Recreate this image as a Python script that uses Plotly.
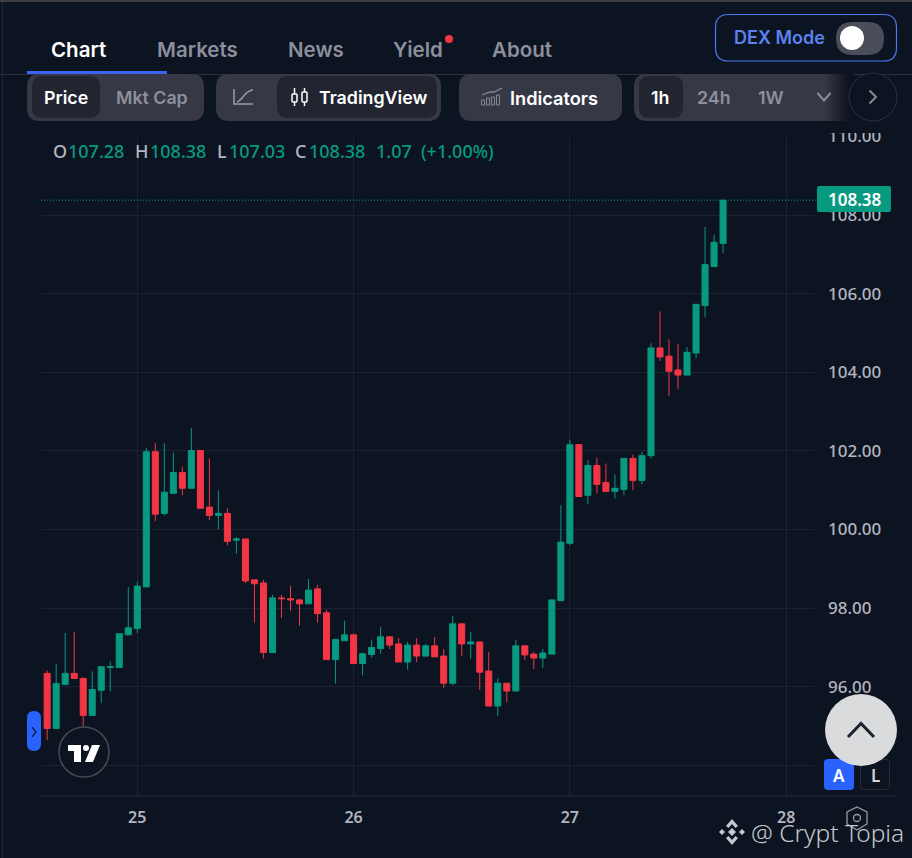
import pandas as pd
import plotly.graph_objects as go

# hourly candles
times = pd.date_range("2025-01-24 14:00", periods=76, freq="h")
opens = [96.34, 94.94, 96.06, 96.34, 96.21, 95.27, 95.91, 96.49, 96.49, 97.32,
         97.48, 98.54, 101.98, 100.41, 100.92, 101.45, 101.05, 102.01, 100.57, 100.36,
         100.41, 99.73, 99.76, 98.72, 98.64, 96.87, 98.26, 98.24, 98.21, 98.11,
         98.49, 97.88, 96.69, 97.17, 97.32, 96.59, 96.82, 96.97, 97.27, 97.09,
         96.63, 97.06, 96.78, 97.04, 96.78, 96.09, 97.60, 97.09, 97.14, 96.40,
         95.51, 96.09, 95.89, 97.04, 96.83, 96.73, 96.83, 98.19, 99.65, 102.16,
         100.87, 101.63, 101.20, 100.97, 101.02, 101.81, 101.25, 101.88, 104.62, 104.41,
         104.06, 103.93, 104.49, 105.70, 106.69, 107.28]
highs = [96.41, 96.59, 97.37, 97.40, 96.24, 96.39, 96.51, 96.64, 97.35, 98.54,
         98.67, 102.08, 102.21, 102.19, 101.96, 101.60, 102.59, 102.01, 101.81, 101.00,
         100.54, 99.81, 99.76, 98.72, 98.72, 98.34, 98.34, 98.57, 98.24, 98.74,
         98.59, 97.96, 97.22, 97.68, 97.35, 96.84, 97.20, 97.53, 97.29, 97.24,
         97.14, 97.24, 97.09, 97.27, 96.96, 97.80, 97.60, 97.40, 97.14, 96.89,
         96.22, 96.09, 97.19, 97.06, 96.89, 96.96, 98.21, 100.62, 102.29, 102.16,
         101.76, 101.83, 101.68, 101.40, 101.81, 101.91, 101.98, 104.74, 105.55, 104.84,
         104.72, 104.64, 105.73, 107.70, 107.50, 108.38]
lows = [94.64, 94.94, 96.06, 96.21, 94.99, 95.27, 95.58, 95.88, 96.49, 97.32,
        97.37, 98.54, 100.21, 100.36, 100.92, 100.87, 101.05, 100.54, 100.24, 100.01,
        99.60, 99.38, 98.64, 97.63, 96.72, 96.87, 97.75, 97.93, 97.55, 98.11,
        97.63, 96.69, 96.08, 97.17, 96.59, 96.29, 96.74, 96.84, 96.96, 96.63,
        96.43, 96.63, 96.78, 96.76, 95.97, 96.04, 96.78, 96.71, 95.92, 95.51,
        95.25, 95.61, 95.89, 96.68, 96.45, 96.48, 96.83, 98.19, 99.60, 100.84,
        100.64, 100.92, 100.97, 100.79, 100.87, 101.00, 101.15, 101.81, 104.29, 103.40,
        103.58, 103.93, 104.36, 105.40, 106.69, 107.03]
closes = [94.94, 96.08, 96.34, 96.21, 95.27, 95.93, 96.51, 96.51, 97.35, 97.50,
          98.56, 101.98, 100.39, 100.95, 101.45, 101.05, 102.01, 100.54, 100.36, 100.41,
          99.70, 99.76, 98.69, 98.62, 96.87, 98.26, 98.24, 98.21, 98.11, 98.46,
          97.86, 96.69, 97.20, 97.32, 96.59, 96.84, 97.00, 97.27, 97.06, 96.63,
          97.06, 96.78, 97.04, 96.76, 96.09, 97.60, 97.09, 97.14, 96.37, 95.51,
          96.09, 95.89, 97.04, 96.81, 96.73, 96.86, 98.21, 99.68, 102.16, 100.84,
          101.63, 101.15, 100.97, 101.05, 101.81, 101.25, 101.88, 104.62, 104.39, 104.03,
          103.93, 104.51, 105.73, 106.74, 107.31, 108.38]

x_tick_vals = ["2025-01-25", "2025-01-26", "2025-01-27", "2025-01-28"]
x_tick_labels = ["25", "26", "27", "28"]
y_tick_vals = [94, 96, 98, 100, 102, 104, 106, 108, 110]
y_tick_labels = ["", "96.00", "98.00", "100.00", "102.00", "104.00", "106.00", "108.00", "110.00"]
x_range = ["2025-01-24 13:19", "2025-01-28 03:12"]
y_range = [93.22, 110.0]

tabs = ["Chart", "Markets", "News", "Yield", "About"]
timeframes = ["1h", "24h", "1W"]

W, H = 912, 858
BG = "#0C1321"
GREEN = "#089981"
RED = "#F23645"
GRID = "#1C2330"
PANEL = "#363846"
ACTIVE = "#22242F"
GREY = "#8D8F9C"
WHITE = "#FFFFFF"
BLUE = "#2962FF"


def px(x):
    return x / W


def py(y):
    return 1 - y / H


shapes = []
notes = []


def path_str(points, close=False):
    s = "M " + " L ".join(f"{px(x):.5f},{py(y):.5f}" for x, y in points)
    return s + (" Z" if close else "")


def add_path(d, fill=None, line=None, width=1):
    shapes.append(dict(type="path", xref="paper", yref="paper", path=d, layer="above",
                       fillcolor=fill or "rgba(0,0,0,0)",
                       line=dict(color=line or "rgba(0,0,0,0)", width=width if line else 0)))


def poly(points, fill=None, line=None, width=1, close=False):
    add_path(path_str(points, close), fill, line, width)


def rrect(x0, y0, x1, y1, r, fill=None, line=None, width=1):
    q = lambda x, y: f"{px(x):.5f},{py(y):.5f}"
    d = (f"M {q(x0 + r, y0)} L {q(x1 - r, y0)} Q {q(x1, y0)} {q(x1, y0 + r)} "
         f"L {q(x1, y1 - r)} Q {q(x1, y1)} {q(x1 - r, y1)} "
         f"L {q(x0 + r, y1)} Q {q(x0, y1)} {q(x0, y1 - r)} "
         f"L {q(x0, y0 + r)} Q {q(x0, y0)} {q(x0 + r, y0)} Z")
    add_path(d, fill, line, width)


def circle(cx, cy, r, fill=None, line=None, width=1):
    shapes.append(dict(type="circle", xref="paper", yref="paper", layer="above",
                       x0=px(cx - r), x1=px(cx + r), y0=py(cy + r), y1=py(cy - r),
                       fillcolor=fill or "rgba(0,0,0,0)",
                       line=dict(color=line or "rgba(0,0,0,0)", width=width if line else 0)))


def text(x, y, s, color=WHITE, size=18, weight=600, anchor="left", family="Inter"):
    notes.append(dict(xref="paper", yref="paper", x=px(x), y=py(y), text=s, showarrow=False,
                      xanchor=anchor, yanchor="middle", borderpad=0, borderwidth=0,
                      font=dict(family=family, size=size, color=color, weight=weight)))


def chevron(pts, color, width=2):
    poly(pts, line=color, width=width)


# header cover, hides the top of the 110.00 label
rrect(0, 0, W, 133, 0, fill=BG)
poly([(0, 1), (W, 1)], line="#3C3E44", width=2)
poly([(2.5, 2), (2.5, H)], line="#222833", width=1)
poly([(0, 74.5), (W, 74.5)], line="#2A303C", width=1)
rrect(27, 71, 167, 74, 0, fill="#3B63F0")

# tabs
tab_x = [51, 157, 288, 393, 492]
for name, tx, col in zip(tabs, tab_x, [WHITE, GREY, GREY, GREY, GREY]):
    text(tx, 49, name, col, size=20.5, weight=600)
circle(449, 39, 4, fill=RED)

# DEX mode switch
rrect(715.5, 14.5, 896.5, 61, 13, line="#4F78F0", width=1.2)
text(734, 37.5, "DEX Mode", "#5B82F0", size=18, weight=600)
rrect(836, 22, 884, 55, 16.5, fill="#4A4D5A")
circle(852, 38, 12, fill=WHITE)

# toolbar groups
rrect(27, 74, 204, 121, 13, fill=PANEL)
rrect(32, 76, 100, 118, 11, fill=ACTIVE)
text(66, 97.5, "Price", WHITE, size=17.8, anchor="center")
text(151.5, 97.5, "Mkt Cap", GREY, size=17.8, anchor="center")

rrect(216, 74, 441, 121, 13, fill=PANEL)
rrect(277, 76, 437, 118, 11, fill=ACTIVE)
poly([(234, 89), (234, 104), (253, 104)], line="#9A9CA8", width=1.5)
add_path(f"M {px(237):.5f},{py(102):.5f} C {px(243):.5f},{py(100):.5f} {px(245):.5f},{py(90):.5f} {px(253):.5f},{py(90):.5f}",
         line="#9A9CA8", width=1.5)
poly([(294.5, 88), (294.5, 106)], line=WHITE, width=1.5)
poly([(304.5, 88), (304.5, 106)], line=WHITE, width=1.5)
rrect(292, 94, 297, 102, 1, fill=ACTIVE, line=WHITE, width=1.5)
rrect(302, 92, 307, 102, 1, fill=ACTIVE, line=WHITE, width=1.5)
text(372.5, 97.5, "TradingView", WHITE, size=17.8, anchor="center")

rrect(459, 74, 622, 121, 13, fill=PANEL)
for bx, top in [(483, 100), (488, 98), (493, 97), (498, 95)]:
    rrect(bx - 1.5, top, bx + 1.5, 105, 0, line="#85878F", width=1)
poly([(482, 95), (490, 92), (494, 92), (502, 88)], line="#85878F", width=1.3)
text(554, 97.5, "Indicators", WHITE, size=18.2, anchor="center")

rrect(634, 74, 853, 121, 13, fill=PANEL)
# fade at the right end of the timeframe strip
fade = ["#32343F", "#2D2F3B", "#282A36", "#232631", "#1E212C", "#191C27", "#141823", "#0F1520", BG]
for i, col in enumerate(fade):
    rrect(826 + i * 3, 74, 853.5 if i == len(fade) - 1 else 829.5 + i * 3, 121, 0, fill=col)
rrect(639, 76, 683, 118, 10, fill=ACTIVE)
for name, cx, col in zip(timeframes, [660, 714, 771], [WHITE, GREY, GREY]):
    text(cx, 97.5, name, col, size=17.8, anchor="center")
chevron([(817.5, 93), (824, 100.5), (830.5, 93)], "#8A8C98")
circle(873, 97, 24, fill=BG, line="#2C3040", width=1)
chevron([(869.5, 90.5), (876, 97), (869.5, 103.5)], "#8A8C98")

# OHLC legend, values come from the last candle
last_o, last_h, last_l, last_c = opens[-1], highs[-1], lows[-1], closes[-1]
change = last_c - closes[-2]
ohlc_size = 18
for lab, lx, val, vx in [("O", 53, last_o, 68), ("H", 135, last_h, 150),
                         ("L", 217, last_l, 229), ("C", 295, last_c, 309)]:
    text(lx, 151, lab, "#B2B5BE", size=ohlc_size, weight=500, family="Noto Sans")
    text(vx, 151, f"{val:.2f}", GREEN, size=ohlc_size, weight=500, family="Noto Sans")
text(376, 151, f"{change:.2f}", GREEN, size=ohlc_size, weight=500, family="Noto Sans")
text(421, 151, f"(+{change / closes[-2] * 100:.2f}%)", GREEN, size=ohlc_size, weight=500, family="Noto Sans")

# last price line and tag
shapes.append(dict(type="line", xref="paper", yref="y", x0=px(41), x1=px(817), y0=last_c, y1=last_c,
                   layer="above", line=dict(color=GREEN, width=1, dash="1px,2px")))
rrect(817, 186, 891, 212, 2, fill=GREEN)
text(854.5, 199.5, f"{last_c:.2f}", WHITE, size=17, weight=600, anchor="center", family="Noto Sans")

# left handle and TradingView badge
rrect(27, 711, 41, 751, 7, fill=BLUE)
chevron([(32, 727), (36, 732), (32, 737)], "#0B121F", width=1.2)
circle(84, 752, 25, fill=BG, line="#4A4D58", width=1.5)
poly([(68, 745), (81, 745), (81, 762), (74, 762), (74, 751), (68, 751)], fill=WHITE, close=True)
circle(86, 748, 3, fill=WHITE)
poly([(92, 745), (100, 745), (93, 762), (85, 762)], fill=WHITE, close=True)

# A / L buttons and the scroll-to-top circle
rrect(824, 759, 854, 790, 4, fill=BLUE)
rrect(860.5, 759.5, 889.5, 789.5, 4, line="#2A2E39", width=1)
text(839, 775, "A", WHITE, size=17, anchor="center", family="Noto Sans")
text(875, 775, "L", "#D1D4DC", size=17, anchor="center", family="Noto Sans")
circle(861, 730, 36, fill="#DADBDC")
chevron([(848, 737), (861, 723.5), (874, 737)], "#1A2230", width=3)

# settings gear on the axis
poly([(857, 807), (867, 812), (867, 824), (857, 830), (847, 824), (847, 812)],
     line="#9A9CA4", width=1.3, close=True)
circle(857, 818, 3.5, line="#9A9CA4", width=1.3)

# watermark
wm = "#C6C8CC"
poly([(732, 828), (736, 832), (732, 836), (728, 832)], fill=wm, close=True)
poly([(722, 829), (725, 832), (722, 835), (719, 832)], fill=wm, close=True)
poly([(742, 829), (745, 832), (742, 835), (739, 832)], fill=wm, close=True)
poly([(726, 826), (732, 819), (738, 826), (735.5, 828), (732, 824), (728.5, 828)], fill=wm, close=True)
poly([(726, 838), (732, 845), (738, 838), (735.5, 836), (732, 840), (728.5, 836)], fill=wm, close=True)
text(751, 832, "@ Crypt Topia", wm, size=24.5, weight=300, family="Noto Sans")

fig = go.Figure()
fig.add_trace(go.Candlestick(
    x=times, open=opens, high=highs, low=lows, close=closes,
    increasing=dict(line=dict(color=GREEN, width=1), fillcolor=GREEN),
    decreasing=dict(line=dict(color=RED, width=1), fillcolor=RED),
    showlegend=False,
))

fig.update_layout(
    width=W, height=H,
    margin=dict(l=0, r=0, t=0, b=0),
    paper_bgcolor=BG, plot_bgcolor=BG,
    boxgap=0.33, boxgroupgap=0,
    shapes=shapes,
    annotations=notes,
    showlegend=False,
    xaxis=dict(
        domain=[41 / W, 815 / W], range=x_range, type="date", automargin=False,
        rangeslider=dict(visible=False),
        tickmode="array", tickvals=x_tick_vals, ticktext=x_tick_labels,
        showgrid=True, gridcolor=GRID, gridwidth=1, zeroline=False,
        showline=False, ticks="", ticklen=0, ticklabelstandoff=10,
        tickfont=dict(family="Noto Sans", size=16, color="#B2B5BE", weight=600),
    ),
    yaxis=dict(
        domain=[1 - 796 / H, 1 - 136.5 / H], range=y_range, side="right", automargin=False,
        tickmode="array", tickvals=y_tick_vals, ticktext=y_tick_labels,
        showgrid=True, gridcolor=GRID, gridwidth=1, zeroline=False,
        showline=False, ticks="", ticklen=0, ticklabelstandoff=12,
        tickfont=dict(family="Noto Sans", size=17, color="#B2B5BE", weight=500),
    ),
)
# bottom axis line
fig.add_shape(type="line", xref="paper", yref="paper", x0=px(41), x1=px(895), y0=py(796), y1=py(796),
              line=dict(color="#2A303C", width=1), layer="above")

fig.write_html("out.html", config=dict(displayModeBar=False),
               post_script="document.body.style.margin='0';document.body.style.overflow='hidden';")
